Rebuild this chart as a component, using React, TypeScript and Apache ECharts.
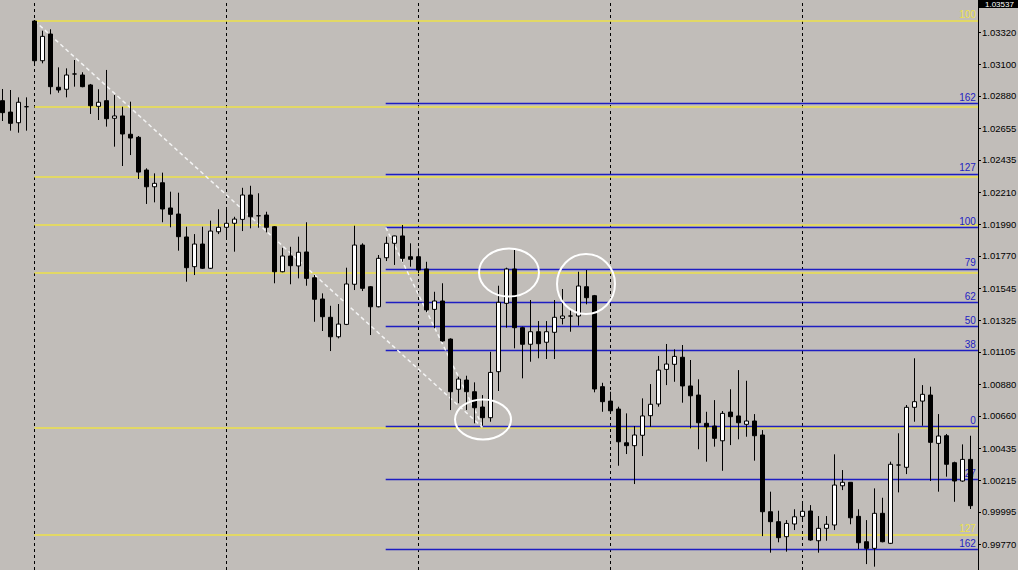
import React, { useEffect, useRef } from "react";
import * as echarts from "echarts";

// ---- data (hourly candles) ----
const opens = [
  1.02846, 1.02767, 1.02693, 1.02804, 1.03398, 1.03123, 1.03308, 1.02939, 1.02925, 1.03031,
  1.03024, 1.02955, 1.02807, 1.02846, 1.02724, 1.0274, 1.02613, 1.02592, 1.02365, 1.02249,
  1.02277, 1.02102, 1.0206, 1.01901, 1.01695, 1.01852, 1.01684, 1.01937, 1.01968, 1.01996,
  1.02023, 1.02192, 1.02048, 1.02053, 1.01972, 1.0166, 1.01769, 1.017, 1.01797, 1.01618,
  1.01471, 1.01344, 1.01209, 1.01295, 1.01573, 1.01845, 1.01556, 1.01417, 1.01757, 1.01857,
  1.01908, 1.01764, 1.01764, 1.01679, 1.01399, 1.01457, 1.01193, 1.00845, 1.00909, 1.00828,
  1.00722, 1.00648, 1.00967, 1.01441, 1.01679, 1.01272, 1.01157, 1.01244, 1.01171, 1.0124,
  1.01337, 1.01353, 1.01353, 1.01556, 1.01494, 1.00863, 1.00763, 1.00708, 1.00474, 1.00454,
  1.00526, 1.00662, 1.00743, 1.00983, 1.01018, 1.01067, 1.00868, 1.00805, 1.00609, 1.0059,
  1.00488, 1.00687, 1.0066, 1.00602, 1.00625, 1.00528, 0.99996, 0.99927, 0.99823, 0.99911,
  0.99964, 1.00001, 0.99795, 0.99881, 0.99904, 1.00176, 1.002, 0.99964, 0.99788, 0.99742,
  0.99985, 0.99777, 1.0032, 1.00304, 1.0072, 1.00763, 1.00805, 1.0047, 1.00523, 1.00336,
  1.00209, 1.00359,
];
const closes = [
  1.02763, 1.02689, 1.02835, 1.02804, 1.03123, 1.03292, 1.02943, 1.0292, 1.03024, 1.03031,
  1.02943, 1.02811, 1.02835, 1.02721, 1.0274, 1.02615, 1.02587, 1.02351, 1.02249, 1.02273,
  1.02095, 1.02058, 1.01903, 1.01688, 1.01852, 1.01684, 1.01942, 1.01968, 1.01996, 1.02025,
  1.02192, 1.02041, 1.02048, 1.01968, 1.0166, 1.01769, 1.01702, 1.01795, 1.01614, 1.01469,
  1.01348, 1.01209, 1.01297, 1.01575, 1.01845, 1.01545, 1.01417, 1.01753, 1.01857, 1.01908,
  1.01753, 1.01746, 1.01672, 1.01395, 1.01457, 1.0118, 1.00828, 1.00916, 1.00828, 1.00717,
  1.00648, 1.00962, 1.01448, 1.01679, 1.01272, 1.01157, 1.01244, 1.01161, 1.01244, 1.01344,
  1.01353, 1.01353, 1.01561, 1.0148, 1.00847, 1.00759, 1.00696, 1.00481, 1.00454, 1.00528,
  1.0066, 1.00741, 1.00978, 1.0102, 1.01073, 1.00868, 1.008, 1.00613, 1.00585, 1.00505,
  1.00678, 1.00655, 1.00613, 1.00625, 1.00523, 0.99996, 0.99927, 0.99816, 0.99915, 0.99961,
  0.99999, 0.998, 0.99881, 0.99909, 1.00181, 1.002, 0.99954, 0.99781, 0.99742, 0.99985,
  0.99788, 1.00325, 1.0032, 1.0072, 1.00759, 1.0081, 1.00477, 1.00521, 1.00325, 1.00209,
  1.00359, 1.00038,
];
const highs = [
  1.02927, 1.0292, 1.02869, 1.02869, 1.03405, 1.03331, 1.03341, 1.03077, 1.0307, 1.03128,
  1.03043, 1.02962, 1.02925, 1.03059, 1.02885, 1.02804, 1.02839, 1.02601, 1.02377, 1.02342,
  1.02347, 1.02215, 1.02208, 1.01972, 1.01921, 1.01972, 1.02014, 1.02093, 1.02102, 1.02041,
  1.02242, 1.02256, 1.02204, 1.02076, 1.01977, 1.01826, 1.01833, 1.01903, 1.02003, 1.01637,
  1.0151, 1.01424, 1.01436, 1.01688, 1.01979, 1.01857, 1.01561, 1.01776, 1.01903, 1.0191,
  1.01984, 1.01857, 1.01822, 1.01729, 1.01521, 1.0158, 1.01198, 1.00932, 1.00939, 1.00893,
  1.00805, 1.01105, 1.01563, 1.01688, 1.01822, 1.01279, 1.01464, 1.01318, 1.01318, 1.01464,
  1.0154, 1.01395, 1.0166, 1.01672, 1.01499, 1.0089, 1.00828, 1.00724, 1.00678, 1.0059,
  1.00782, 1.00881, 1.01076, 1.01159, 1.01122, 1.01152, 1.01048, 1.00914, 1.00689, 1.0077,
  1.00694, 1.00845, 1.00978, 1.00904, 1.00673, 1.00562, 1.00135, 1.00003, 0.99938, 1.00013,
  1.00056, 1.00042, 0.99966, 0.99966, 1.00394, 1.00285, 1.00202, 1.00013, 0.99938, 1.00158,
  1.00093, 1.00343, 1.0054, 1.00736, 1.0106, 1.00874, 1.00863, 1.00673, 1.00535, 1.00343,
  1.00463, 1.00523,
];
const lows = [
  1.02705, 1.02638, 1.02624, 1.02638, 1.03107, 1.03105, 1.0289, 1.02901, 1.02869, 1.02943,
  1.02939, 1.02754, 1.02712, 1.02666, 1.02527, 1.02393, 1.02469, 1.02303, 1.0213, 1.02141,
  1.02003, 1.01968, 1.01806, 1.01591, 1.01637, 1.01679, 1.01679, 1.01921, 1.01894, 1.01799,
  1.01942, 1.01961, 1.01965, 1.01933, 1.0158, 1.01656, 1.01573, 1.01614, 1.01563, 1.01313,
  1.01249, 1.0111, 1.01198, 1.0129, 1.01533, 1.01526, 1.01221, 1.01413, 1.01734, 1.01707,
  1.01729, 1.01695, 1.01651, 1.01379, 1.01268, 1.01175, 1.00701, 1.00748, 1.00701, 1.00609,
  1.00592, 1.0062, 1.00833, 1.01272, 1.01129, 1.00921, 1.01036, 1.0106, 1.01055, 1.01055,
  1.01295, 1.01244, 1.01286, 1.01434, 1.00824, 1.00689, 1.00687, 1.00315, 1.00396, 1.00188,
  1.00382, 1.00585, 1.00724, 1.00874, 1.00897, 1.00752, 1.00574, 1.00429, 1.00343, 1.00447,
  1.0028, 1.00458, 1.00498, 1.00516, 1.0035, 0.99827, 0.99712, 0.99784, 0.99719, 0.99869,
  0.99925, 0.99795, 0.99712, 0.99795, 0.99869, 1.00146, 0.99909, 0.99737, 0.99633, 0.99615,
  0.99784, 0.99772, 1.0013, 1.00257, 1.0062, 1.00592, 1.00209, 1.00135, 1.00239, 1.00065,
  1.00204, 1.00015,
];

// price scale tick labels (right axis)
const priceTicks = [
  1.0332, 1.031, 1.0288, 1.02655, 1.02435, 1.0221, 1.0199, 1.0177, 1.01545,
  1.01325, 1.01105, 1.0088, 1.0066, 1.00435, 1.00215, 0.99995, 0.9977,
];

// bar indices where a new day starts
const daySeparators = [4, 28, 52, 76, 100];

// first Fibonacci (yellow), anchored at bar 4
const yellowLevels = [1.034, 1.02802, 1.02319, 1.01986, 1.01653, 1.00581, 0.99836];
const yellowLabels = ["100", "", "", "", "", "", "127"];
const yellowStartBar = 4;

// second Fibonacci (blue), anchored near bar 48
const blueLevels = [1.02825, 1.02338, 1.01968, 1.0168, 1.01445, 1.01281, 1.01116, 1.0059, 1.00219, 0.99735];
const blueLabels = ["162", "127", "100", "79", "62", "50", "38", "0", "27", "162"];
const blueStartBar = 47.9;

// dashed trend lines: [barFrom, priceFrom, barTo, priceTo]
const trendLines = [
  [4, 1.034, 60, 1.00581],
  [47.9, 1.01968, 60, 1.0059],
];

// ---- styling ----
const BG = "#c1bdb9";
const BLUE = "#1e1ec2";
const YELLOW = "#ece24a";
const FONT = "Liberation Sans";
const X_MIN = -0.3125;
const X_MAX = 121.9375;
const Y_MIN = 0.99592;
const Y_MAX = 1.03544;

export default function App() {
  const ref = useRef<HTMLDivElement>(null);

  useEffect(() => {
    if (!ref.current) return;
    const chart = echarts.init(ref.current, undefined, { renderer: "svg" });

    const candleData = opens.map((o, i) => [i, o, closes[i], lows[i], highs[i]]);

    const levelLine = (start: number, v: number, label: string, color: string, width: number) => [
      {
        coord: [start, v],
        lineStyle: { color, width, type: "solid" },
        label: {
          show: label !== "",
          position: "insideEndTop",
          formatter: label,
          color,
          fontSize: 10,
          fontFamily: FONT,
          distance: [2, 1],
        },
      },
      { coord: [X_MAX - 0.01, v] },
    ];

    const option: any = {
      animation: false,
      backgroundColor: BG,
      grid: { left: 0, right: 40, top: 0, bottom: 0, outerBoundsMode: "none", containLabel: false },
      xAxis: { type: "value", min: X_MIN, max: X_MAX, show: false },
      yAxis: {
        type: "value",
        position: "right",
        min: Y_MIN,
        max: Y_MAX,
        splitLine: { show: false },
        axisLine: { show: true, onZero: false, lineStyle: { color: "#000", width: 1 } },
        axisTick: { show: true, length: 3, customValues: priceTicks, lineStyle: { color: "#000" } },
        axisLabel: {
          customValues: priceTicks,
          formatter: (v: number) => v.toFixed(5),
          color: "#000",
          fontSize: 9.5,
          fontFamily: FONT,
          margin: 4,
        },
      },
      graphic: [
        { type: "rect", shape: { x: 978, y: 0, width: 40, height: 8 }, style: { fill: "#000" }, z: 50 },
        {
          type: "text",
          x: 985,
          y: 0,
          style: { text: "1.03537", fill: "#fff", fontSize: 8, fontFamily: FONT, textVerticalAlign: "top" },
          z: 51,
        },
        { type: "ellipse", shape: { cx: 509, cy: 272.5, rx: 30, ry: 24 }, style: { fill: "none", stroke: "#fff", lineWidth: 2 }, z: 100 },
        { type: "ellipse", shape: { cx: 586, cy: 284, rx: 29, ry: 30 }, style: { fill: "none", stroke: "#fff", lineWidth: 2 }, z: 100 },
        { type: "ellipse", shape: { cx: 483, cy: 419.5, rx: 28, ry: 20 }, style: { fill: "none", stroke: "#fff", lineWidth: 2 }, z: 100 },
      ],
      series: [
        {
          type: "line",
          data: [],
          silent: true,
          markLine: {
            z: 1,
            silent: true,
            animation: false,
            symbol: ["none", "none"],
            label: { show: false },
            lineStyle: { color: "#000", type: [3, 3], width: 1 },
            data: daySeparators.map((k) => ({ xAxis: k })),
          },
        },
        {
          type: "line",
          data: [],
          silent: true,
          markLine: {
            z: 1,
            silent: true,
            animation: false,
            symbol: ["none", "none"],
            data: yellowLevels.map((v, i) => levelLine(yellowStartBar, v, yellowLabels[i], YELLOW, 1.5)),
          },
        },
        {
          type: "line",
          data: [],
          silent: true,
          markLine: {
            z: 1,
            silent: true,
            animation: false,
            symbol: ["none", "none"],
            data: blueLevels.map((v, i) => levelLine(blueStartBar, v, blueLabels[i], BLUE, 1.3)),
          },
        },
        {
          type: "line",
          data: [],
          silent: true,
          markLine: {
            z: 1,
            silent: true,
            animation: false,
            symbol: ["none", "none"],
            label: { show: false },
            lineStyle: { color: "#f4f4f4", type: [4, 3], width: 1.5 },
            data: trendLines.map((t) => [{ coord: [t[0], t[1]] }, { coord: [t[2], t[3]] }]),
          },
        },
        {
          type: "candlestick",
          z: 10,
          data: candleData,
          barWidth: 5,
          itemStyle: {
            color: "#ffffff",
            color0: "#000000",
            borderColor: "#000000",
            borderColor0: "#000000",
            borderWidth: 1,
          },
        },
      ],
    };

    chart.setOption(option);
    return () => chart.dispose();
  }, []);

  return (
    <div
      ref={ref}
      style={{ position: "fixed", left: 0, top: 0, width: 1018, height: 570 }}
    />
  );
}
